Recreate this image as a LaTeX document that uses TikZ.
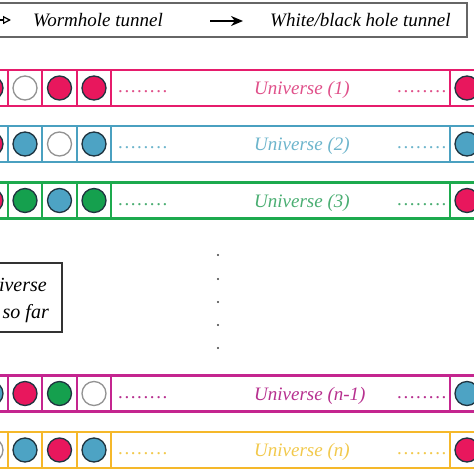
\documentclass[tikz,border=0pt]{standalone}
\usepackage{fontspec}
\setmainfont{Liberation Serif}
\usetikzlibrary{arrows.meta}
\definecolor{framepink}{HTML}{E61C6C}
\definecolor{textpink}{HTML}{E0508A}
\definecolor{frameblue}{HTML}{4AA0C0}
\definecolor{textblue}{HTML}{6DB5CC}
\definecolor{framegreen}{HTML}{1DAA4E}
\definecolor{textgreen}{HTML}{4AAE72}
\definecolor{framemag}{HTML}{C4258F}
\definecolor{textmag}{HTML}{B7308F}
\definecolor{frameyel}{HTML}{F5B82A}
\definecolor{textyel}{HTML}{F2C94C}
\definecolor{fpink}{HTML}{E8175D}
\definecolor{fblue}{HTML}{4DA3C4}
\definecolor{fgreen}{HTML}{15A04E}
\definecolor{ballline}{HTML}{1F3440}
\tikzset{
  rowframe/.style={line width=2.6pt},
  ball/.style={circle, minimum size=24pt, inner sep=0pt, line width=1.3pt, draw=ballline},
  pinkball/.style={ball, fill=fpink},
  blueball/.style={ball, fill=fblue},
  greenball/.style={ball, fill=fgreen},
  whiteball/.style={ball, fill=white, draw=gray!85},
  lbl/.style={font=\fontsize{19}{22}\selectfont\itshape, inner sep=0pt},
  dotstxt/.style={font=\fontsize{19}{22}\selectfont, inner sep=0pt},
}
\newcommand{\dotline}{.\kern1.6pt.\kern1.6pt.\kern1.6pt.\kern1.6pt.\kern1.6pt.\kern1.6pt.\kern1.6pt.}
% #1 id, #2 y centre, #3 colour key, #4 label, #5..#9 balls
\newcommand{\unirow}[9]{%
  \draw[rowframe, draw=frame#3] (-30,#2-18) rectangle (500,#2+18);
  \foreach \xx in {8,42,77,111,450}
    \draw[rowframe, draw=frame#3] (\xx,#2-18) -- (\xx,#2+18);
  \node[#5ball] (#1b0) at (-9,#2) {};
  \node[#6ball] (#1b1) at (25,#2) {};
  \node[#7ball] (#1b2) at (59.5,#2) {};
  \node[#8ball] (#1b3) at (94,#2) {};
  \node[#9ball] (#1b4) at (467,#2) {};
  \node[dotstxt, text=text#3, anchor=base west] (#1dl) at (118,#2+4.5) {\dotline};
  \node[dotstxt, text=text#3, anchor=base west] (#1dr) at (397,#2+4.5) {\dotline};
  \node[lbl, text=text#3, anchor=base west] (#1lab) at (254,#2+6.5) {#4};
}
\begin{document}
\begin{tikzpicture}[x=1pt,y=-1pt]
\useasboundingbox (0,0) rectangle (474,474);
\clip (0,0) rectangle (474,474);
\fill[white] (0,0) rectangle (474,474);

% legend
\draw[gray!80!black, line width=1.4pt] (-20,3) rectangle (467,37);
\coordinate (wa) at (-20,20);
\coordinate (wb) at (11,20);
\draw[line width=1.2pt, -{Triangle[open,length=8pt,width=8pt]}] (wa) -- (wb);
\node[lbl, anchor=base west] (lw) at (33,26) {Wormhole tunnel};
\coordinate (ba) at (210,21);
\coordinate (bb) at (243,21);
\draw[line width=1.6pt, -{Stealth[length=12pt,width=10pt]}] (ba) -- (bb);
\node[lbl, anchor=base west] (lb) at (270,26) {White/black hole tunnel};

% rows
\unirow{r1}{88}{pink}{Universe (1)}{pink}{white}{pink}{pink}{pink}
\unirow{r2}{144}{blue}{Universe (2)}{pink}{blue}{white}{blue}{blue}
\unirow{r3}{200.5}{green}{Universe (3)}{pink}{green}{blue}{green}{pink}
\unirow{rm}{393.5}{mag}{Universe (n-1)}{blue}{pink}{green}{white}{blue}
\unirow{rn}{450}{yel}{Universe (n)}{white}{blue}{pink}{blue}{pink}

% vertical dots
\foreach \yy in {255,279,302,325,348}
  \fill[black!75] (218,\yy) circle (1.2pt);

% universe so far box
\draw[black!80, line width=1.4pt] (-40,263) rectangle (62,332);
\node[lbl, font=\fontsize{20}{23}\selectfont\itshape, anchor=base east] (us1) at (47,291) {Universe};
\node[lbl, font=\fontsize{20}{23}\selectfont\itshape, anchor=base east] (us2) at (49,318) {so far};
\end{tikzpicture}
\end{document}
